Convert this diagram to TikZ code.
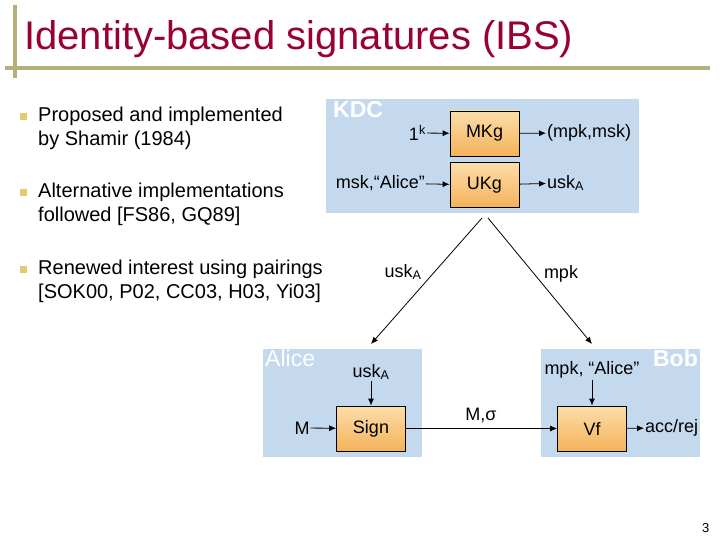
\documentclass[tikz,border=0pt]{standalone}
\usepackage{fontspec}
\usetikzlibrary{arrows.meta}
\setmainfont{Liberation Sans}
\begin{document}
\begin{tikzpicture}[x=1pt,y=-1pt,
  alg/.style={draw=black, thick, top color=algtop, bottom color=algbot, minimum width=69pt, minimum height=45pt, inner sep=0pt, font=\fontsize{18}{20}\selectfont},
  lbl/.style={font=\fontsize{18}{20}\selectfont, inner sep=1pt},
  big/.style={font=\fontsize{23}{25}\selectfont, text=white, inner sep=0pt},
  bul/.style={font=\fontsize{20}{24}\selectfont, align=left, anchor=west, inner sep=0pt},
  arr/.style={-{Latex[length=7pt,width=6pt]}, thick}]
\definecolor{panelc}{RGB}{197,217,238}
\definecolor{algtop}{RGB}{252,222,170}
\definecolor{algbot}{RGB}{244,178,90}
\definecolor{titlec}{RGB}{153,0,51}
\definecolor{olive}{RGB}{181,176,122}
\definecolor{bulc}{RGB}{230,200,110}
\useasboundingbox (0,0) rectangle (720,540);
% decoration
\fill[olive] (13,5) rectangle (17,78);
\fill[olive] (5,66) rectangle (710,70);
\node[anchor=west, text=titlec, font=\fontsize{40}{42}\selectfont, inner sep=0pt] (title) at (24,39) {Identity-based signatures (IBS)};
% bullets
\foreach \y in {116,192,269}{\fill[bulc] (20,\y-3) rectangle (27,\y+4);}
\node[bul] (t1) at (38,128) {Proposed and implemented\\by Shamir (1984)};
\node[bul] (t2) at (38,204) {Alternative implementations\\followed [FS86, GQ89]};
\node[bul] (t3) at (38,281) {Renewed interest using pairings\\{}[SOK00, P02, CC03, H03, Yi03]};
% panels
\fill[panelc] (326,99) rectangle (639,213);
\fill[panelc] (263,349) rectangle (422,457);
\fill[panelc] (541,349) rectangle (700,457);
\node[big, anchor=north west, font=\fontsize{23}{25}\selectfont\bfseries] (kdc) at (333,101) {KDC};
\node[big, anchor=north west] (alice) at (265,350) {Alice};
\node[big, anchor=north east, font=\fontsize{23}{25}\selectfont\bfseries] (bob) at (698,350) {Bob};
% algorithms
\node[alg] (mkg) at (484.5,133.5) {MKg};
\node[alg] (ukg) at (484.5,185) {UKg};
\node[alg] (sign) at (371,428.5) {Sign};
\node[alg] (vf) at (592,428.5) {Vf};
% labels
\node[lbl, anchor=east] (k) at (427,133) {1$^{\mathrm{k}}$};
\node[lbl, anchor=west] (mpkmsk) at (546,133) {(mpk,msk)};
\node[lbl, anchor=east] (mska) at (426,183) {msk,“Alice”};
\node[lbl, anchor=west] (uska) at (546,183) {usk$_{\mathrm{A}}$};
\node[lbl] (uskb) at (371,372) {usk$_{\mathrm{A}}$};
\node[lbl] (mpka) at (592,370) {mpk, “Alice”};
\node[lbl] (m) at (302,428) {M};
\node[lbl] (ms) at (481,415) {M,σ};
\node[lbl, anchor=west] (acc) at (644,428) {acc/rej};
\node[lbl] (ul) at (403,272) {usk$_{\mathrm{A}}$};
\node[lbl] (ml) at (561,274) {mpk};
\coordinate (top1) at (482,218);
\coordinate (top2) at (488,218);
\coordinate (dl) at (371,344);
\coordinate (dr) at (592,344);
% arrows
\draw[arr] (k) -- (mkg);
\draw[arr] (mkg) -- (mpkmsk);
\draw[arr] (mska) -- (ukg);
\draw[arr] (ukg) -- (uska);
\draw[arr] (top1) -- (dl);
\draw[arr] (top2) -- (dr);
\draw[arr] (uskb) -- (sign);
\draw[arr] (mpka) -- (vf);
\draw[arr] (m) -- (sign);
\draw[arr] (sign) -- (vf);
\draw[arr] (vf) -- (acc);
\node[font=\fontsize{13}{14}\selectfont, anchor=east] (pg) at (713,528) {3};
\end{tikzpicture}
\end{document}
